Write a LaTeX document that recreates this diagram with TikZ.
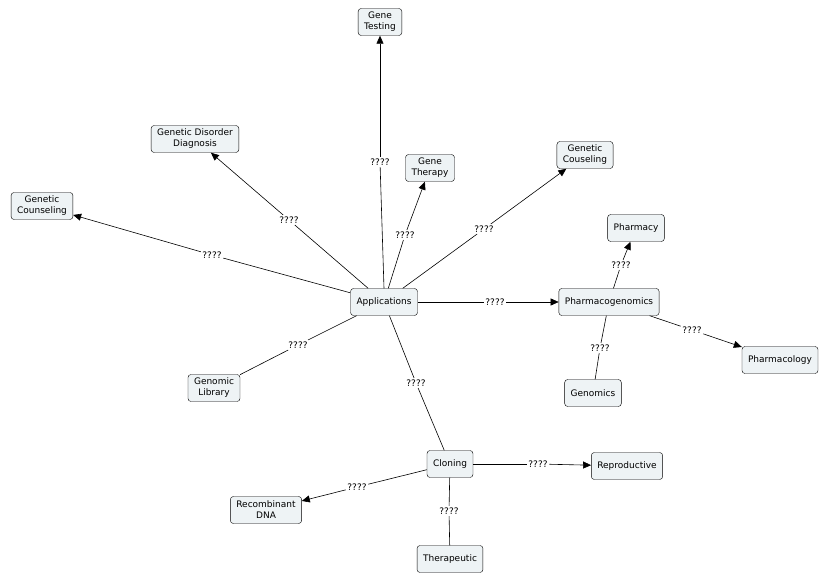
\documentclass[tikz,border=0pt]{standalone}
\usepackage{fontspec}
\setmainfont{DejaVu Sans}
\usetikzlibrary{arrows.meta}
\begin{document}
\begin{tikzpicture}[x=1pt,y=-1pt,
  box/.style={draw=black,rounded corners=3pt,fill={rgb,255:red,238;green,243;blue,245},font=\fontsize{9}{11}\selectfont,align=center,inner xsep=6pt,inner ysep=3pt,minimum height=27pt},
  lab/.style={font=\fontsize{9}{11}\selectfont,fill=white,inner sep=1.5pt},
  ln/.style={draw=black,line width=0.6pt},
  ar/.style={ln,-{Triangle[length=8pt,width=7pt]}}]
\useasboundingbox (0,0) rectangle (833,577);
\node[box] (gt) at (380,22) {Gene\\Testing};
\node[box] (gdd) at (195,139) {Genetic Disorder\\Diagnosis};
\node[box] (gth) at (430,168) {Gene\\Therapy};
\node[box] (gcs) at (585,155) {Genetic\\Couseling};
\node[box] (gcn) at (42,206) {Genetic\\Counseling};
\node[box] (phy) at (636,228) {Pharmacy};
\node[box] (app) at (384,302) {Applications};
\node[box] (pg) at (609,302) {Pharmacogenomics};
\node[box] (pgy) at (780,360) {Pharmacology};
\node[box] (gl) at (214,388) {Genomic\\Library};
\node[box] (gen) at (593,393) {Genomics};
\node[box] (cl) at (450,464) {Cloning};
\node[box] (rep) at (627,466) {Reproductive};
\node[box] (rd) at (266,510) {Recombinant\\DNA};
\node[box] (th) at (450,559) {Therapeutic};

\node[lab] (l1) at (380,162) {????};
\node[lab] (l2) at (289,220) {????};
\node[lab] (l3) at (405,235) {????};
\node[lab] (l4) at (484,229) {????};
\node[lab] (l5) at (212,255) {????};
\node[lab] (l6) at (495,302) {????};
\node[lab] (l7) at (621,265) {????};
\node[lab] (l8) at (692,330) {????};
\node[lab] (l9) at (600,348) {????};
\node[lab] (l10) at (298,345) {????};
\node[lab] (l11) at (416,383) {????};
\node[lab] (l12) at (538,464) {????};
\node[lab] (l13) at (357,487) {????};
\node[lab] (l14) at (449,511) {????};

\draw[ln] (app.north) ++(0,0) -- (l1); \draw[ar] (l1) -- (gt);
\draw[ln] (app) -- (l2); \draw[ar] (l2) -- (gdd);
\draw[ln] (app) -- (l3); \draw[ar] (l3) -- (gth);
\draw[ln] (app) -- (l4); \draw[ar] (l4) -- (gcs);
\draw[ln] (app) -- (l5); \draw[ar] (l5) -- (gcn);
\draw[ln] (app) -- (l6); \draw[ar] (l6) -- (pg);
\draw[ln] (pg) -- (l7); \draw[ar] (l7) -- (phy);
\draw[ln] (pg) -- (l8); \draw[ar] (l8) -- (pgy);
\draw[ln] (pg) -- (l9); \draw[ln] (l9) -- (gen);
\draw[ln] (app) -- (l10); \draw[ln] (l10) -- (gl);
\draw[ln] (app) -- (l11); \draw[ln] (l11) -- (cl);
\draw[ln] (cl) -- (l12); \draw[ar] (l12) -- (rep);
\draw[ln] (cl) -- (l13); \draw[ar] (l13) -- (rd);
\draw[ln] (cl) -- (l14); \draw[ln] (l14) -- (th);
\end{tikzpicture}
\end{document}
